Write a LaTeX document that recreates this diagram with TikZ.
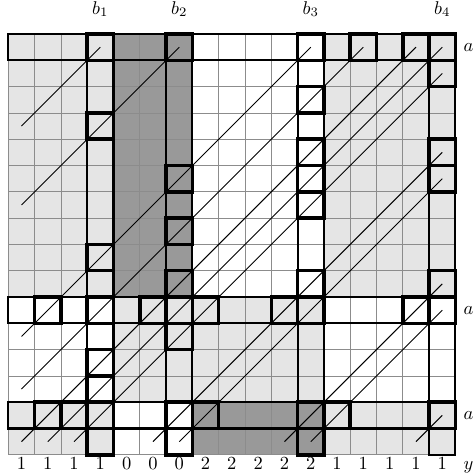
\documentclass[tikz,border=0pt]{standalone}
\usepackage{amsmath}
\usepackage{tikz}
\usetikzlibrary{calc}
\tikzset{
  gridline/.style={draw=black!45, line width=0.4pt},
  band/.style={draw=black, line width=1.1pt},
  hit/.style={draw=black, line width=1.9pt},
  match/.style={draw=black, line width=0.5pt},
  light/.style={fill=black!10},
  dark/.style={fill=black!40}
  }

\begin{document}
\begin{tikzpicture}[x=0.5cm, y=0.5cm]
  \useasboundingbox (-0.316,-16.73) rectangle (17.707,1.293);
  % shading of the blocks
  \fill [light] (0,0) rectangle (4,-10);
  \fill [dark] (4,0) rectangle (7,-10);
  \fill [light] (12,0) rectangle (17,-10);
  \fill [light] (4,-10) rectangle (12,-14);
  \fill [light] (0,-14) rectangle (4,-16);
  \fill [dark] (7,-14) rectangle (12,-16);
  \fill [light] (12,-14) rectangle (17,-16);
  \draw [gridline, step=0.5cm] (0,0) grid (17,-16);
  % cell centres
  \foreach \c in {1,...,17}
    \foreach \r in {1,...,16}
      \coordinate (c-\c-\r) at (\c-0.5,0.5-\r);
  % diagonals
  \foreach \p/\q in {1-4/4-1, 1-7/7-1, 1-12/12-1, 1-14/14-1, 1-16/16-1,
                     2-16/17-1, 3-16/17-2, 6-16/17-5, 7-16/17-6,
                     11-16/17-10, 12-16/17-11, 16-16/17-15}
    \draw [match] (c-\p) -- (c-\q);
  % rows and columns
  \foreach \r in {1,11,15}
    \draw [band] (0,1-\r) rectangle (17,-\r);
  \foreach \c in {4,7,12,17}
    \draw [band] (\c-1,0) rectangle (\c,-16);
  \foreach \c/\r in {4/1, 7/1, 12/1, 14/1, 16/1, 17/1, 17/2, 12/3, 4/4,
                     12/5, 17/5, 7/6, 12/6, 17/6, 12/7, 7/8, 4/9,
                     7/10, 12/10, 17/10,
                     2/11, 4/11, 6/11, 7/11, 8/11, 11/11, 12/11, 16/11, 17/11,
                     7/12, 4/13, 4/14,
                     2/15, 3/15, 4/15, 7/15, 8/15, 12/15, 13/15, 17/15,
                     4/16, 7/16, 12/16}
    \draw [hit] (\c-1,1-\r) rectangle (\c,-\r);
  % labels
  \node (b1) [anchor=base] at (3.5,0.76) {$b_1$};
  \node (b2) [anchor=base] at (6.5,0.76) {$b_2$};
  \node (b3) [anchor=base] at (11.5,0.76) {$b_3$};
  \node (b4) [anchor=base] at (16.5,0.76) {$b_4$};
  \node (a1) [anchor=west, inner sep=0pt] at (17.3,-0.5) {$a$};
  \node (a2) [anchor=west, inner sep=0pt] at (17.3,-10.5) {$a$};
  \node (a3) [anchor=west, inner sep=0pt] at (17.3,-14.5) {$a$};
  \foreach \d [count=\c] in {1,1,1,1,0,0,0,2,2,2,2,2,1,1,1,1,1}
    \node (y\c) [anchor=base, inner sep=0pt] at (\c-0.5,-16.56) {$\d$};
  \node (ylab) [anchor=base west, inner sep=0pt] at (17.3,-16.56) {$y$};
\end{tikzpicture}
\end{document}
